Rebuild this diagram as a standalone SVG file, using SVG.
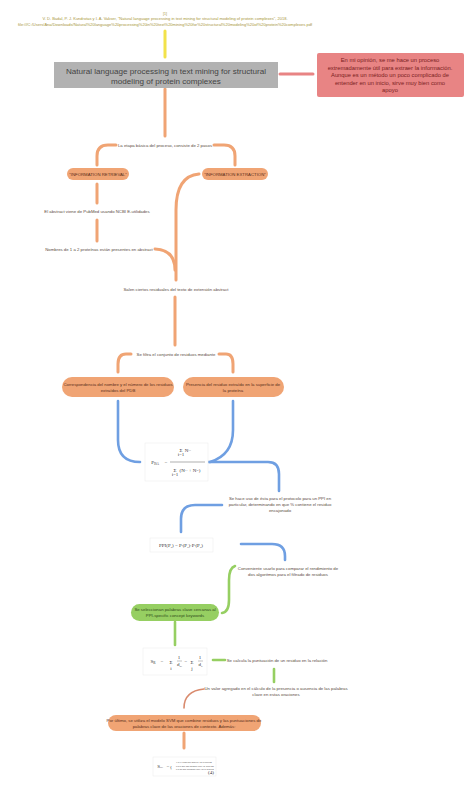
<svg xmlns="http://www.w3.org/2000/svg" width="474" height="788" viewBox="0 0 474 788">
<style>
text{font-family:"Liberation Sans",Arial,sans-serif;text-anchor:middle}
.ref{font-size:3.6px;fill:#a8963c}
.t{font-size:4.3px;fill:#5a4a40}
.nt{font-size:4.3px;fill:#5a2e1a}
.c{fill:none;stroke-linecap:round}
.or{stroke:#f0a474;stroke-width:3}
.bl{stroke:#6f9fe2;stroke-width:2.6}
.gr{stroke:#96cf62;stroke-width:2.6}
.on{fill:#f0a474}
.fbox{fill:#ffffff;stroke:#eeeeee;stroke-width:0.6}
.f{font-family:"Liberation Serif","Times New Roman",serif;fill:#333;font-size:5px}
</style>
<rect width="474" height="788" fill="#ffffff"/>

<g id="connectors">
  <path class="c" d="M165 31 V57" stroke="#f2e24a" stroke-width="3"/>
  <path class="c" d="M280 74 H313" stroke="#e88484" stroke-width="3"/>
  <path class="c or" d="M165 89 V136"/>
  <path class="c or" d="M116 145 H108 Q97 145 97 156 V165"/>
  <path class="c or" d="M214 145 H224 Q235 145 235 156 V165"/>
  <path class="c or" d="M97 184 V203"/>
  <path class="c or" d="M97 220 V241"/>
  <path class="c or" d="M199 174 Q176 176 176 210 V280"/>
  <path class="c or" d="M155 249 Q175 250 175 270"/>
  <path class="c or" d="M175 297 V345"/>
  <path class="c or" d="M131 354 H126 Q118 354 118 364 V372"/>
  <path class="c or" d="M219 354 H226 Q233 354 233 364 V372"/>
  <path class="c bl" d="M118 401 V440 Q118 462 140 462"/>
  <path class="c bl" d="M233 401 V430 Q233 455 210 462"/>
  <path class="c bl" d="M208 462 H268 Q279 462 279 474 V491"/>
  <path class="c bl" d="M222 505 H195 Q181 505 181 519 V532"/>
  <path class="c bl" d="M241 544 H272 Q285 544 285 556 V560"/>
  <path class="c gr" d="M235 566 Q229 568 229 580 V600 Q229 612 222 613"/>
  <path class="c gr" d="M175 622 V645"/>
  <path class="c gr" d="M213 660 H225"/>
  <path class="c gr" d="M274 669 V682"/>
  <path class="c" d="M204 689 Q184 691 184 708" stroke="#d98b6e" stroke-width="1.6"/>
  <path class="c or" d="M184 733 V748" stroke-width="1.6"/>
</g>

<g id="reference">
  <text class="ref" x="165" y="15">[1]</text>
  <text class="ref" x="165" y="20" textLength="245" lengthAdjust="spacingAndGlyphs">V. D. Badal, P. J. Kundrotas y I. A. Vakser, "Natural language processing in text mining for structural modeling of protein complexes", 2018.</text>
  <text class="ref" x="165" y="26" textLength="294" lengthAdjust="spacingAndGlyphs">file:///C:/Users/Ana/Downloads/Natural%20language%20processing%20in%20text%20mining%20for%20structural%20modeling%20of%20protein%20complexes.pdf</text>
</g>

<g id="main">
  <rect x="54" y="62" width="224" height="26" fill="#b2b2b2"/>
  <text x="166" y="73.5" font-size="8.1" fill="#444">Natural language processing in text mining for structural</text>
  <text x="166" y="83.5" font-size="8.1" fill="#444">modeling of protein complexes</text>
</g>

<g id="opinion">
  <rect x="317" y="53" width="147" height="44" rx="2" fill="#e88484"/>
  <text x="390" y="62" font-size="5.8" fill="#7a1e1e">En mi opinión, se me hace un proceso</text>
  <text x="390" y="69.5" font-size="5.8" fill="#7a1e1e">extremadamente útil para extraer la información.</text>
  <text x="390" y="77" font-size="5.8" fill="#7a1e1e">Aunque es un método un poco complicado de</text>
  <text x="390" y="84.5" font-size="5.8" fill="#7a1e1e">entender en un inicio, sirve muy bien como</text>
  <text x="390" y="92" font-size="5.8" fill="#7a1e1e">apoyo</text>
</g>

<g id="etapa"><text class="t" x="165" y="147">La etapa básica del proceso, consiste de 2 pasos</text></g>

<g id="ir">
  <rect x="67" y="168" width="62" height="12" rx="6" class="on"/>
  <text class="nt" x="98" y="175.5">"INFORMATION RETRIEVAL"</text>
</g>
<g id="ie">
  <rect x="202" y="168" width="66" height="12" rx="6" class="on"/>
  <text class="nt" x="235" y="175.5">"INFORMATION EXTRACTION"</text>
</g>

<g id="abstract"><text class="t" x="97" y="213">El abstract viene de PubMed usando NCBI E-utilidades</text></g>
<g id="nombres"><text class="t" x="99" y="251">Nombres de 1 a 2 proteínas están presentes en abstract</text></g>
<g id="salen"><text class="t" x="176" y="291">Salen ciertos residuales del texto de extensión abstract</text></g>
<g id="filtra"><text class="t" x="176" y="356">Se filtra el conjunto de residuos mediante</text></g>

<g id="corresp">
  <rect x="62" y="377" width="112" height="20" rx="10" class="on"/>
  <text class="nt" x="118" y="385.5">Correspondencia del nombre y el número de los residuos</text>
  <text class="nt" x="118" y="391.5">extraídos del PDB</text>
</g>
<g id="presencia">
  <rect x="183" y="377" width="101" height="20" rx="10" class="on"/>
  <text class="nt" x="233" y="385.5">Presencia del residuo extraído en la superficie de</text>
  <text class="nt" x="233" y="391.5">la proteína</text>
</g>

<g id="formula1">
  <rect x="145" y="443" width="63" height="38" class="fbox"/>
  <text class="f" x="155" y="464" font-size="4.5">P<tspan font-size="3" dy="1">ISA</tspan></text>
  <text class="f" x="166" y="464" font-size="4.5">=</text>
  <text class="f" x="181" y="452" font-size="6">Σ</text>
  <text class="f" x="188" y="452" font-size="3.5">N<tspan font-size="2.5" dy="-1.5">IA</tspan></text>
  <text class="f" x="181" y="456" font-size="2.5">i=1</text>
  <line x1="170" y1="462" x2="205" y2="462" stroke="#333" stroke-width="0.4"/>
  <text class="f" x="175" y="472" font-size="6">Σ</text>
  <text class="f" x="190" y="472" font-size="3.5">(N<tspan font-size="2.5" dy="-1.5">IA</tspan><tspan dy="1.5"> + N</tspan><tspan font-size="2.5" dy="-1.5">IE</tspan><tspan dy="1.5">)</tspan></text>
  <text class="f" x="175" y="476" font-size="2.5">i=1</text>
</g>

<g id="protocolo">
  <text class="t" x="280" y="500">Se hace uso de ésta para el protocolo para un PPI en</text>
  <text class="t" x="280" y="506">particular, determinando en que % contiene el residuo</text>
  <text class="t" x="280" y="512">encajonado</text>
</g>

<g id="formula2">
  <rect x="150" y="538" width="63" height="14" class="fbox"/>
  <text class="f" x="181" y="546.5" font-size="4">PPI(P<tspan font-size="2.8" dy="1">a</tspan><tspan dy="-1">)  = P</tspan><tspan font-size="2.8" dy="-1">I</tspan><tspan dy="1">(P</tspan><tspan font-size="2.8" dy="1">a</tspan><tspan dy="-1">)·P</tspan><tspan font-size="2.8" dy="-1">I</tspan><tspan dy="1">(P</tspan><tspan font-size="2.8" dy="1">b</tspan><tspan dy="-1">)</tspan></text>
</g>

<g id="conveniente">
  <text class="t" x="288" y="570">Conveniente usarlo para comparar el rendimiento de</text>
  <text class="t" x="288" y="576">dos algoritmos para el filtrado de residuos</text>
</g>

<g id="palabras">
  <rect x="131" y="604" width="88" height="17" rx="8.5" fill="#96cf62"/>
  <text x="175" y="611" font-size="4.3" fill="#2e4a1a">Se seleccionan palabras clave cercanas al</text>
  <text x="175" y="617" font-size="4.3" fill="#2e4a1a">PPI-specific concept keywords</text>
</g>

<g id="formula3">
  <rect x="143" y="648" width="64" height="27" class="fbox"/>
  <text class="f" x="153" y="663" font-size="5">S<tspan font-size="3.4" dy="1">R</tspan></text>
  <text class="f" x="162" y="663" font-size="5">=</text>
  <text class="f" x="171" y="664" font-size="8">Σ</text>
  <text class="f" x="179" y="659" font-size="3.5">1</text>
  <line x1="177" y1="661" x2="182" y2="661" stroke="#333" stroke-width="0.3"/>
  <text class="f" x="179.5" y="666" font-size="3.5">d<tspan font-size="2.5" dy="1">Ri</tspan></text>
  <text class="f" x="186" y="663" font-size="5">−</text>
  <text class="f" x="192" y="664" font-size="8">Σ</text>
  <text class="f" x="200" y="659" font-size="3.5">1</text>
  <line x1="198" y1="661" x2="203" y2="661" stroke="#333" stroke-width="0.3"/>
  <text class="f" x="200.5" y="666" font-size="3.5">d<tspan font-size="2.5" dy="1">Ij</tspan></text>
  <text class="f" x="171" y="670" font-size="2.5">i</text>
  <text class="f" x="192" y="670" font-size="2.5">j</text>
</g>

<g id="calcula"><text class="t" x="277" y="662">Se calcula la puntuación de un residuo en la relación</text></g>

<g id="valor">
  <text class="t" x="276" y="690" font-size="4">Un valor agregado en el cálculo de la presencia o ausencia de las palabras</text>
  <text class="t" x="276" y="696" font-size="4">clave en estas oraciones</text>
</g>

<g id="svm">
  <rect x="108" y="715" width="153" height="16" rx="8" class="on"/>
  <text class="nt" x="184" y="722">Por último, se utiliza el modelo SVM que combine residuos y las puntuaciones de</text>
  <text class="nt" x="184" y="728">palabras clave de las oraciones de contexto. Además:</text>
</g>

<g id="formula4">
  <rect x="153" y="757" width="63" height="19" class="fbox"/>
  <text class="f" x="160" y="767.5" font-size="3">S<tspan font-size="2" dy="0.6">PPI</tspan></text>
  <text class="f" x="168" y="767.5" font-size="3">=</text>
  <text class="f" x="171" y="768.5" font-size="9">{</text>
  <text x="176" y="763" font-size="2.4" fill="#333" style="text-anchor:start;font-family:'Liberation Serif',serif">1 si el concepto aparece en la oración</text>
  <text x="176" y="766.5" font-size="2.4" fill="#333" style="text-anchor:start;font-family:'Liberation Serif',serif">0.5 si hay una palabra clave de proteína</text>
  <text x="176" y="770" font-size="2.4" fill="#333" style="text-anchor:start;font-family:'Liberation Serif',serif">0 si no hay palabras clave en la oración</text>
  <text class="f" x="211" y="774" font-size="2.6">(4)</text>
</g>
</svg>
